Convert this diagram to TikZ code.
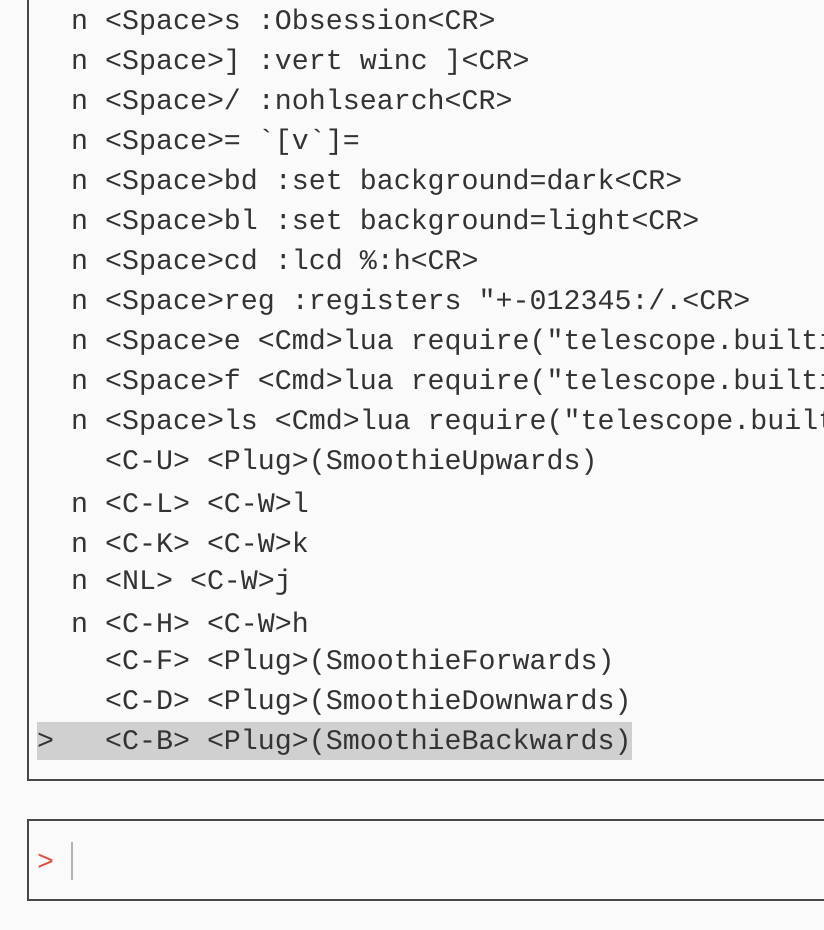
\documentclass[tikz,border=0pt]{standalone}
\usepackage{fontspec}
\setmonofont{Liberation Mono}
\definecolor{bg}{HTML}{FAFAFA}
\definecolor{txt}{HTML}{333333}
\definecolor{hl}{HTML}{D0D0D0}
\definecolor{red}{HTML}{E0503C}
\tikzset{ln/.style={anchor=west,inner sep=0pt,text=txt,font=\fontsize{28.3}{30}\ttfamily},
 frame/.style={draw=txt!90,line width=1.3pt}}
\begin{document}
\begin{tikzpicture}[x=1pt,y=1pt]
\useasboundingbox (0,0) rectangle (824,930);
\clip (0,0) rectangle (824,930);
\fill[bg] (0,0) rectangle (824,930);
\fill[hl] (37,930-722) rectangle (632,930-760);
\draw[frame] (28,940) -- (28,930-780) -- (830,930-780);
\draw[frame] (830,930-820) -- (28,930-820) -- (28,930-900) -- (830,930-900);
\foreach \i/\t in {0/{~~n~<Space>s~:Obsession<CR>},
1/{~~n~<Space>]~:vert~winc~]<CR>},
2/{~~n~<Space>/~:nohlsearch<CR>},
3/{~~n~<Space>=~`[v`]=},
4/{~~n~<Space>bd~:set~background=dark<CR>},
5/{~~n~<Space>bl~:set~background=light<CR>},
6/{~~n~<Space>cd~:lcd~\%:h<CR>},
7/{~~n~<Space>reg~:registers~"+-012345:/.<CR>},
8/{~~n~<Space>e~<Cmd>lua~require("telescope.builtin").find\_files()},
9/{~~n~<Space>f~<Cmd>lua~require("telescope.builtin").live\_grep()},
10/{~~n~<Space>ls~<Cmd>lua~require("telescope.builtin").buffers()},
11/{~~~~<C-U>~<Plug>(SmoothieUpwards)},
12/{~~n~<C-L>~<C-W>l},
13/{~~n~<C-K>~<C-W>k},
14/{~~n~<NL>~<C-W>j},
15/{~~n~<C-H>~<C-W>h},
16/{~~~~<C-F>~<Plug>(SmoothieForwards)},
17/{~~~~<C-D>~<Plug>(SmoothieDownwards)},
18/{>~~~<C-B>~<Plug>(SmoothieBackwards)}}
  \node[ln] (l\i) at (37,930-22-40*\i) {\t};
\node[ln,text=red] (p) at (37,930-862) {>};
\draw[gray!60,line width=1.5pt] (72,930-842) -- (72,930-880);
\end{tikzpicture}
\end{document}
